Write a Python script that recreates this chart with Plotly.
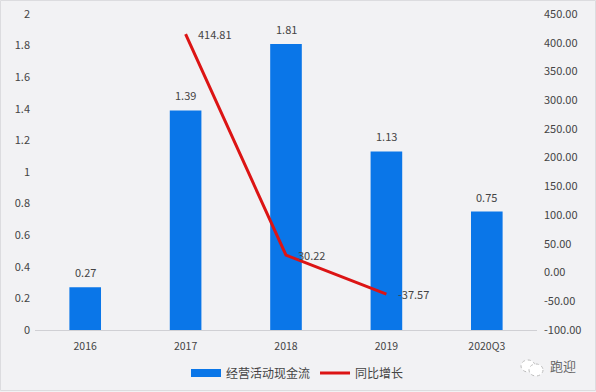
import plotly.graph_objects as go

categories = ["2016", "2017", "2018", "2019", "2020Q3"]
cash_flow = [0.27, 1.39, 1.81, 1.13, 0.75]
growth = [None, 414.81, 30.22, -37.57, None]
left_ticks = [0, 0.2, 0.4, 0.6, 0.8, 1, 1.2, 1.4, 1.6, 1.8, 2]
left_tick_labels = ["0", "0.2", "0.4", "0.6", "0.8", "1", "1.2", "1.4", "1.6", "1.8", "2"]
right_ticks = [-100, -50, 0, 50, 100, 150, 200, 250, 300, 350, 400, 450]
right_tick_labels = ["-100.00", "-50.00", "0.00", "50.00", "100.00", "150.00", "200.00",
                     "250.00", "300.00", "350.00", "400.00", "450.00"]

FONT = "Noto Sans CJK SC, Noto Sans, sans-serif"
TXT = "#444444"
BLUE = "#0a76e8"
RED = "#dc1414"
L, R, T, B = 35, 59, 14, 62
PW, PH = 596 - L - R, 392 - T - B


def px(x):
    return (x - L) / PW


def py(y):
    return (392 - B - y) / PH


fig = go.Figure()
fig.add_trace(go.Bar(
    x=categories, y=cash_flow, name="经营活动现金流", width=0.315,
    marker=dict(color=BLUE, line_width=0), showlegend=False,
))
# legend key only: wide blue swatch as in the reference
fig.add_trace(go.Scatter(
    x=categories, y=[None] * len(categories), name="经营活动现金流", mode="lines",
    line=dict(color=BLUE, width=8),
))
fig.add_trace(go.Scatter(
    x=categories, y=growth, name="同比增长", yaxis="y2", mode="lines",
    line=dict(color=RED, width=3),
))

annotations = []
for i, v in enumerate(cash_flow):
    annotations.append(dict(x=i, y=v, text=f"{v:.2f}", xref="x", yref="y", showarrow=False,
                            yanchor="bottom", yshift=5, font=dict(size=11, color=TXT)))
for i, v in enumerate(growth):
    if v is not None:
        annotations.append(dict(x=i, y=v, text=f"{v:.2f}", xref="x", yref="y2", showarrow=False,
                                xanchor="left", xshift=10, font=dict(size=11, color=TXT)))
annotations.append(dict(text="跑迎", xref="paper", yref="paper", x=px(578), y=py(365),
                        showarrow=False, xanchor="right", yanchor="middle",
                        font=dict(size=13, color="#666666")))

icon = dict(type="circle", xref="paper", yref="paper", layer="above",
            fillcolor="#ffffff", line=dict(color="#bbbbbb", width=1, dash="dot"))
shapes = [
    dict(type="rect", xref="paper", yref="paper", x0=px(0.5), x1=px(595.5), y0=py(390.5), y1=py(0.5),
         line=dict(color="#dcdcdf", width=1), layer="below"),
    dict(icon, x0=px(521), x1=px(535), y0=py(372), y1=py(360)),
    dict(icon, x0=px(529), x1=px(543), y0=py(376), y1=py(364)),
]

fig.update_layout(
    width=596, height=392, margin=dict(l=L, r=R, t=T, b=B, autoexpand=False),
    paper_bgcolor="#f2f2f4", plot_bgcolor="rgba(0,0,0,0)",
    font=dict(family=FONT, size=11, color=TXT),
    xaxis=dict(type="category", categoryorder="array", categoryarray=categories, range=[-0.5, 4.5],
               showline=True, linecolor="#d0d0d4", linewidth=1,
               ticks="", showgrid=False, tickfont=dict(size=10.5), ticklabelstandoff=6),
    yaxis=dict(range=[0, 2], tickvals=left_ticks, ticktext=left_tick_labels,
               showgrid=False, zeroline=False, showline=False, ticks="",
               tickfont=dict(size=11), ticklabelstandoff=4),
    yaxis2=dict(overlaying="y", side="right", range=[-100, 450], tickvals=right_ticks,
                ticktext=right_tick_labels, showgrid=False, zeroline=False,
                showline=False, ticks="", tickfont=dict(size=11), ticklabelstandoff=6),
    legend=dict(orientation="h", x=px(186), xanchor="left", y=-0.09, yanchor="top",
                font=dict(size=12), itemwidth=30, bgcolor="rgba(0,0,0,0)"),
    annotations=annotations,
    shapes=shapes,
)
fig.write_html("out.html", config={"displayModeBar": False},
               post_script="document.body.style.margin='0';document.documentElement.style.overflow='hidden';")
